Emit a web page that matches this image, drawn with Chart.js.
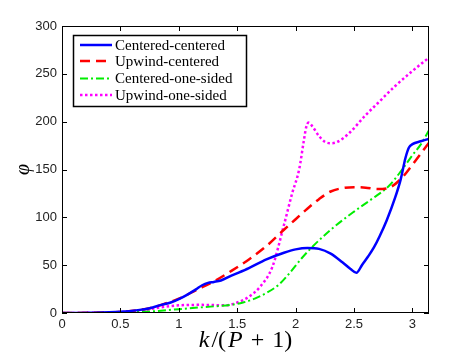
<!DOCTYPE html>
<html><head><meta charset="utf-8">
<script src="https://cdn.jsdelivr.net/npm/chart.js@4.4.1/dist/chart.umd.min.js"></script>
<style>html,body{margin:0;padding:0;background:#fff;}canvas{display:block;}</style>
</head><body>
<canvas id="c" width="474" height="356"></canvas>
<script>
// ---- data ----
const seriesLabels = ['Centered-centered','Upwind-centered','Centered-one-sided','Upwind-one-sided'];
const xTicks = [0,0.5,1,1.5,2,2.5,3];
const yTicks = [0,50,100,150,200,250,300];

const xCC = [0,0.25,0.5,0.65,0.75,0.85,0.93,1.0,1.07,1.15,1.2,1.25,1.3,1.36,1.45,1.6,1.75,1.9,2.0,2.1,2.2,2.3,2.4,2.47,2.52,2.57,2.62,2.67,2.72,2.78,2.85,2.9,2.94,2.97,3.0,3.07,3.1416];
const yCC = [0,0.2,1.2,3,5,8.5,11,14.5,19,25,29,31.5,32.5,34,39,47,56,63,66.5,68,67,62,53,46,42,50.5,59,68.5,80.5,97,120,140,162,173,176.5,179.5,182];

const xUC = [0,0.25,0.5,0.65,0.75,0.85,1.0,1.15,1.3,1.45,1.6,1.75,1.9,2.0,2.1,2.2,2.3,2.4,2.5,2.6,2.7,2.8,2.9,3.0,3.1416];
const yUC = [0,0.2,1.2,3,5,8.5,15,24,33,44,56,70,87,98,109,119,127,130.5,131.5,131,129.5,131,140,155,178];

const xCO = [0,0.25,0.5,0.75,1.0,1.25,1.45,1.55,1.65,1.75,1.85,1.95,2.05,2.15,2.3,2.5,2.65,2.8,2.9,3.0,3.07,3.1416];
const yCO = [0,0.1,0.5,1.5,4,6.5,8.5,11,15,21,29,42,57,70,87,106,119,133,148,165,176,191];

const xUO = [0,0.25,0.5,0.7,0.85,1.0,1.2,1.4,1.5,1.6,1.7,1.8,1.9,1.97,2.03,2.07,2.09,2.11,2.15,2.2,2.25,2.3,2.35,2.45,2.6,2.7,2.85,3.0,3.1416];
const yUO = [0,0.2,1,3,6,8,8.5,8,11,17,28,48,92,125,150,180,194,199,194,185,179,177.5,178.5,187,207,219,237,253,267];

const xTitleParts = [['k','italic'],['/(','normal'],['P','italic'],[' + ','normal'],['1)','normal']];
const yTitle = 'φ';

function pts(xs, ys){ return xs.map((x,i)=>({x:x,y:ys[i]})); }

const tickFont = {family:'"Liberation Sans", Arial, sans-serif', size:13};

const framePlugin = {
  id:'frame',
  afterDraw(chart){
    const ctx = chart.ctx, a = chart.chartArea;
    const xs = chart.scales.x, ys = chart.scales.y;
    ctx.save();
    ctx.strokeStyle = '#000'; ctx.lineWidth = 1;
    ctx.strokeRect(a.left+0.5, a.top+0.5, a.right-a.left-1, a.bottom-a.top-1);
    const tl = 5;
    ctx.beginPath();
    xTicks.forEach(v=>{
      const px = Math.round(xs.getPixelForValue(v))+0.5;
      ctx.moveTo(px,a.bottom); ctx.lineTo(px,a.bottom-tl);
      ctx.moveTo(px,a.top); ctx.lineTo(px,a.top+tl);
    });
    yTicks.forEach(v=>{
      const py = Math.round(ys.getPixelForValue(v))+0.5;
      ctx.moveTo(a.left,py); ctx.lineTo(a.left+tl,py);
      ctx.moveTo(a.right,py); ctx.lineTo(a.right-tl,py);
    });
    ctx.stroke();

    // x title
    const fam = '"Liberation Serif", "DejaVu Serif", serif';
    const sz = 24;
    const gap = 2;
    let total = 0;
    xTitleParts.forEach(p=>{ ctx.font = p[1]+' '+sz+'px '+fam; total += ctx.measureText(p[0]).width + gap; });
    total -= gap;
    let x0 = (a.left+a.right)/2 - total/2;
    ctx.fillStyle = '#000'; ctx.textBaseline = 'alphabetic'; ctx.textAlign='left';
    xTitleParts.forEach(p=>{ ctx.font = p[1]+' '+sz+'px '+fam; ctx.fillText(p[0], x0, 347); x0 += ctx.measureText(p[0]).width + gap; });

    // y title
    ctx.save();
    ctx.translate(24, (a.top+a.bottom)/2);
    ctx.rotate(-Math.PI/2);
    ctx.font = 'italic 20px '+fam;
    ctx.textAlign='center'; ctx.textBaseline='middle';
    ctx.fillText(yTitle, 0, 0);
    ctx.restore();

    // legend
    const lx = 73, ly = 35, lw = 173, lh = 71;
    ctx.fillStyle = '#fff';
    ctx.fillRect(lx, ly, lw, lh);
    ctx.lineWidth = 1.5; ctx.strokeStyle = '#000';
    ctx.strokeRect(lx+0.5, ly+0.5, lw, lh);
    const rows = [45,61,78.5,95];
    chart.data.datasets.forEach((ds,i)=>{
      const y = rows[i];
      ctx.save();
      ctx.strokeStyle = ds.borderColor; ctx.lineWidth = ds.borderWidth;
      ctx.setLineDash(ds.borderDash || []);
      ctx.beginPath(); ctx.moveTo(80,y); ctx.lineTo(112,y); ctx.stroke();
      ctx.restore();
      ctx.fillStyle = '#000';
      ctx.font = '15px '+fam;
      ctx.textBaseline='middle'; ctx.textAlign='left';
      ctx.fillText(ds.label, 115, y+1);
    });
    ctx.restore();
  }
};

new Chart(document.getElementById('c'), {
  type:'line',
  data:{ datasets:[
    {label:seriesLabels[0], data:pts(xCC,yCC), borderColor:'#0000ff', borderWidth:2.5},
    {label:seriesLabels[1], data:pts(xUC,yUC), borderColor:'#ff0000', borderWidth:2.5, borderDash:[10,6]},
    {label:seriesLabels[2], data:pts(xCO,yCO), borderColor:'#00ee00', borderWidth:2, borderDash:[8,3,2,3]},
    {label:seriesLabels[3], data:pts(xUO,yUO), borderColor:'#ff00ff', borderWidth:2.5, borderDash:[2.5,2.5]}
  ]},
  options:{
    responsive:false, animation:false,
    layout:{padding:{top:26,right:45,left:0,bottom:0}},
    elements:{point:{radius:0}, line:{cubicInterpolationMode:'monotone', fill:false}},
    plugins:{legend:{display:false}, tooltip:{enabled:false}},
    scales:{
      x:{type:'linear', min:0, max:Math.PI,
        grid:{display:false, drawTicks:false}, border:{display:false},
        ticks:{font:tickFont, color:'#222', padding:4, maxRotation:0, callback:v=>String(v)},
        afterBuildTicks:s=>{ s.ticks = xTicks.map(v=>({value:v})); },
        afterFit:s=>{ s.height = 43; }
      },
      y:{type:'linear', min:0, max:300,
        grid:{display:false, drawTicks:false}, border:{display:false},
        ticks:{font:tickFont, color:'#222', padding:5},
        afterBuildTicks:s=>{ s.ticks = yTicks.map(v=>({value:v})); },
        afterFit:s=>{ s.width = 62; }
      }
    }
  },
  plugins:[framePlugin]
});
</script>
</body></html>
